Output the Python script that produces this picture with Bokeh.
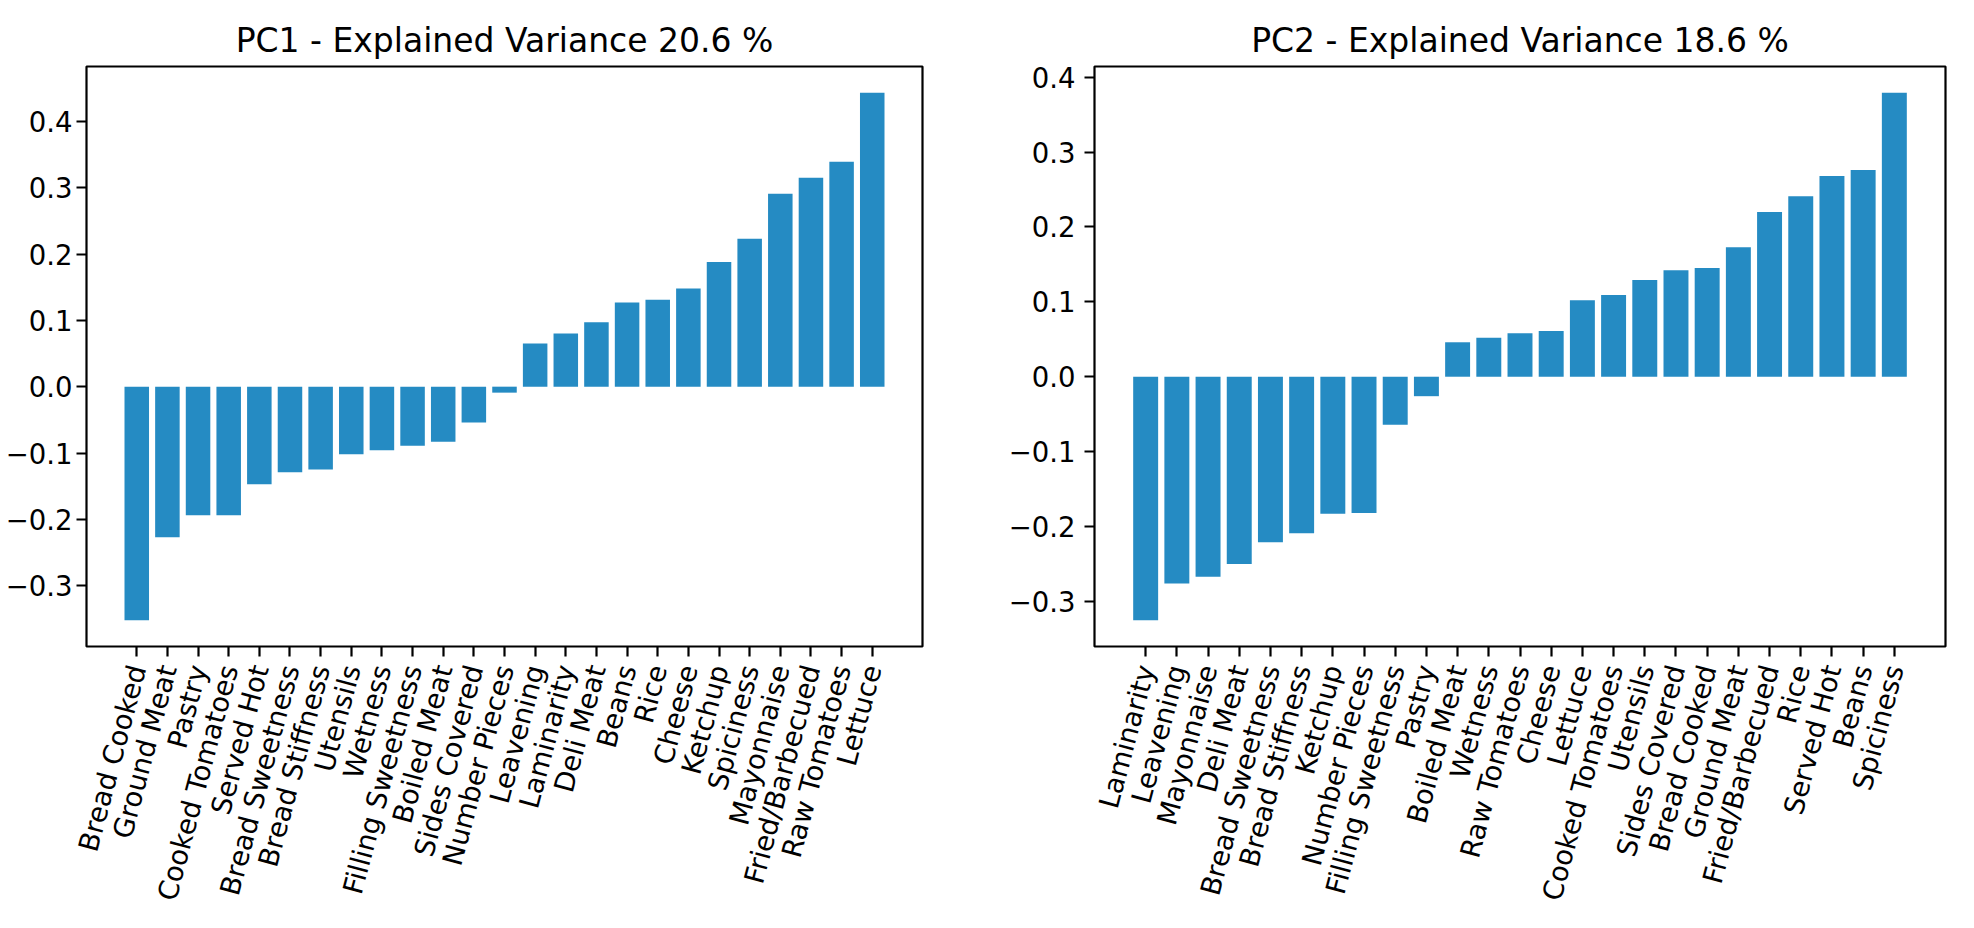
import math
from bokeh.plotting import figure
from bokeh.layouts import row
from bokeh.models import Range1d, FixedTicker, ColumnDataSource
from bokeh.embed import file_html
from bokeh.resources import INLINE

pc1_names = ["Bread Cooked", "Ground Meat", "Pastry", "Cooked Tomatoes", "Served Hot",
             "Bread Sweetness", "Bread Stiffness", "Utensils", "Wetness", "Filling Sweetness",
             "Boiled Meat", "Sides Covered", "Number Pieces", "Leavening", "Laminarity",
             "Deli Meat", "Beans", "Rice", "Cheese", "Ketchup", "Spiciness", "Mayonnaise",
             "Fried/Barbecued", "Raw Tomatoes", "Lettuce"]
pc1_values = [-0.352, -0.227, -0.194, -0.194, -0.147, -0.129, -0.125, -0.102, -0.096, -0.089,
              -0.083, -0.054, -0.009, 0.065, 0.080, 0.097, 0.127, 0.131, 0.148, 0.188,
              0.223, 0.291, 0.315, 0.339, 0.443]

pc2_names = ["Laminarity", "Leavening", "Mayonnaise", "Deli Meat", "Bread Sweetness",
             "Bread Stiffness", "Ketchup", "Number Pieces", "Filling Sweetness", "Pastry",
             "Boiled Meat", "Wetness", "Raw Tomatoes", "Cheese", "Lettuce", "Cooked Tomatoes",
             "Utensils", "Sides Covered", "Bread Cooked", "Ground Meat", "Fried/Barbecued",
             "Rice", "Served Hot", "Beans", "Spiciness"]
pc2_values = [-0.325, -0.276, -0.267, -0.250, -0.221, -0.209, -0.183, -0.182, -0.064, -0.026,
              0.046, 0.052, 0.058, 0.061, 0.102, 0.109, 0.129, 0.142, 0.145, 0.173,
              0.220, 0.241, 0.268, 0.276, 0.379]

titles = ["PC1 - Explained Variance 20.6 %", "PC2 - Explained Variance 18.6 %"]
y_ticks = [-0.3, -0.2, -0.1, 0.0, 0.1, 0.2, 0.3, 0.4]

BAR = "#258bc3"
FONT = "DejaVu Sans"


def make_fig(names, values, title, left_border, right_border, fw, standoff):
    n = len(names)
    xs = list(range(n))
    bw = 0.8
    x0, x1 = -bw / 2, n - 1 + bw / 2
    xm = (x1 - x0) * 0.05
    lo, hi = min(values), max(values)
    ym = (hi - lo) * 0.05
    p = figure(frame_width=fw, frame_height=580,
               x_range=Range1d(x0 - xm, x1 + xm), y_range=Range1d(lo - ym, hi + ym),
               output_backend="svg", toolbar_location=None,
               min_border_left=left_border, min_border_right=right_border,
               min_border_top=66, min_border_bottom=10,
               background_fill_color="white", border_fill_color="white")
    src = ColumnDataSource(dict(x=xs, top=values))
    p.vbar(x="x", top="top", bottom=0, width=bw, source=src, fill_color=BAR, line_color=None)
    p.title.text = title
    p.title.text_font = FONT
    p.title.text_font_size = "33px"
    p.title.text_font_style = "normal"
    p.title.text_color = "black"
    p.title.align = "center"
    p.title.standoff = 14
    p.grid.visible = False
    p.outline_line_color = "black"
    p.outline_line_width = 2.2
    for ax in (p.xaxis[0], p.yaxis[0]):
        ax.axis_line_color = None
        ax.major_tick_in = 0
        ax.major_tick_out = 10
        ax.major_tick_line_width = 2.2
        ax.minor_tick_line_color = None
        ax.major_label_text_font = FONT
        ax.major_label_text_font_size = "27.5px"
        ax.major_label_text_color = "black"
        ax.major_label_standoff = 9
    p.yaxis.major_label_standoff = standoff
    p.xaxis.ticker = FixedTicker(ticks=xs)
    p.xaxis.major_label_overrides = {i: nm for i, nm in enumerate(names)}
    p.xaxis.major_label_orientation = math.radians(75)
    p.yaxis.ticker = FixedTicker(ticks=y_ticks)
    p.yaxis.major_label_overrides = {t: f"{t:.1f}".replace("-", "\u2212") for t in y_ticks}
    return p


p1 = make_fig(pc1_names, pc1_values, titles[0], 40, 83, 836, 4)
p1.margin = (0, 0, 0, 2)
p2 = make_fig(pc2_names, pc2_values, titles[1], 40, 30, 851, 9)

layout = row(p1, p2)
open("out.html", "w").write(file_html(layout, INLINE))
